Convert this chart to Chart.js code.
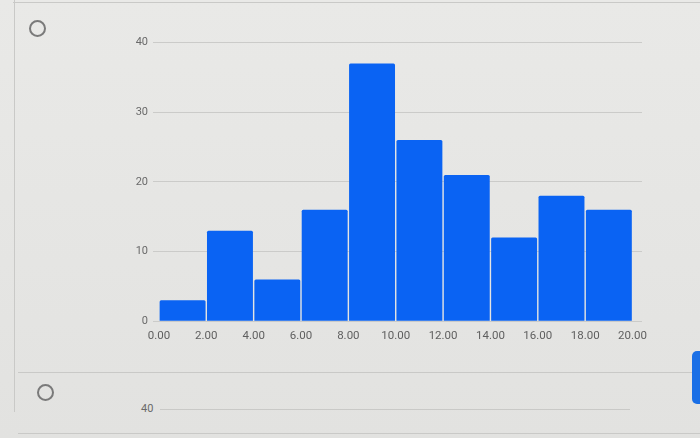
<!DOCTYPE html>
<html>
<head>
<meta charset="utf-8">
<script src="https://cdn.jsdelivr.net/npm/chart.js@4/dist/chart.umd.min.js"></script>
<style>
* { box-sizing: border-box; }
html, body { margin: 0; padding: 0; }
body {
	width: 700px;
	height: 438px;
	overflow: hidden;
	position: relative;
	background: linear-gradient(180deg, #e9e9e7 0%, #e5e5e3 60%, #e2e2e0 100%);
	font-family: Roboto, "Noto Sans", sans-serif;
}
.line { position: absolute; background: #c9c9c7; }
.radio {
	position: absolute;
	width: 17px; height: 17px;
	border: 2px solid #7a7a7a;
	border-radius: 50%;
}
#wrap { position: absolute; left: 110px; top: 31px; width: 540px; height: 312px; }
.tick { position: absolute; font-size: 11px; color: #6a6a6a; }
.tab {
	position: absolute; left: 692px; top: 351px; width: 12px; height: 53px;
	background: #1a6fe6; border-radius: 5px 0 0 5px;
}
</style>
</head>
<body>
<div class="line" style="left:13px; top:2px; width:687px; height:1px"></div>
<div class="line" style="left:14px; top:0; width:1px; height:412px"></div>
<div class="radio" style="left:29px; top:20px"></div>

<div id="wrap"><canvas id="chart"></canvas></div>

<div class="line" style="left:18px; top:372px; width:682px; height:1px"></div>
<div class="radio" style="left:37px; top:384px"></div>
<div class="tick" style="left:141px; top:402px">40</div>
<div class="line" style="left:160px; top:409px; width:470px; height:1px"></div>
<div class="line" style="left:18px; top:433px; width:682px; height:1px"></div>
<div class="tab"></div>

<script>
// histogram bins (width 2), counts
const binStarts = [0, 2, 4, 6, 8, 10, 12, 14, 16, 18];
const counts = [3, 13, 6, 16, 37, 26, 21, 12, 18, 16];
const xTicks = [0, 2, 4, 6, 8, 10, 12, 14, 16, 18, 20];
const yTicks = [0, 10, 20, 30, 40];

const binWidth = 2;

new Chart(document.getElementById("chart"), {
	type: 'bar',
	data: {
		datasets: [{
			data: binStarts.map((s, i) => ({x: s + binWidth / 2, y: counts[i]})),
			backgroundColor: '#0a63f3',
			borderWidth: 0,
			borderRadius: 1.5,
			barPercentage: 0.97,
			categoryPercentage: 1
		}]
	},
	options: {
		responsive: true,
		maintainAspectRatio: false,
		animation: false,
		layout: {padding: {top: 4, right: 8, bottom: 0, left: 0}},
		plugins: {legend: {display: false}, tooltip: {enabled: false}},
		scales: {
			x: {
				type: 'linear',
				offset: false,
				min: -0.25,
				max: 20.4,
				afterBuildTicks: scale => { scale.ticks = xTicks.map(value => ({value})); },
				ticks: {
					color: '#5f5f5f',
					font: {family: 'Roboto', size: 11.5},
					padding: 0,
					maxRotation: 0,
					autoSkip: false,
					callback: v => Number(v).toFixed(2)
				},
				grid: {display: false},
				border: {display: false}
			},
			y: {
				min: 0,
				max: 40,
				afterBuildTicks: scale => { scale.ticks = yTicks.map(value => ({value})); },
				afterFit: scale => { scale.width = 43; },
				ticks: {
					color: '#6a6a6a',
					font: {family: 'Roboto', size: 11},
					padding: 5
				},
				grid: {color: '#cbcbc9', drawTicks: false, lineWidth: 1},
				border: {display: false}
			}
		}
	}
});
</script>
</body>
</html>
